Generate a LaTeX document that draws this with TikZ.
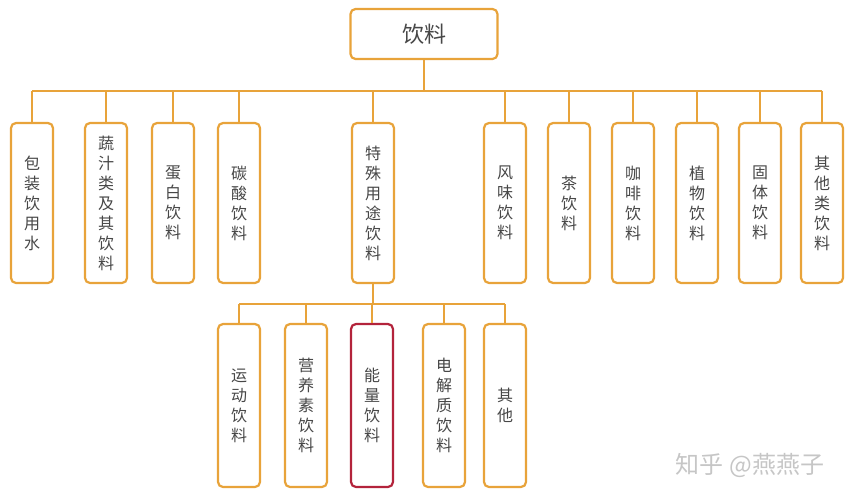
\documentclass[tikz,border=0pt]{standalone}
\usepackage{fontspec}
\setmainfont{Noto Sans CJK SC}
\definecolor{drinkorange}{HTML}{E8A33A}
\definecolor{drinkred}{HTML}{B3233B}
\definecolor{drinktext}{HTML}{474747}
\tikzset{
  cat/.style={draw=drinkorange, line width=2.2pt, rounded corners=5pt, fill=white,
    minimum width=42pt, minimum height=160pt, inner sep=0pt, align=center,
    text=drinktext, font=\fontsize{16}{20}\selectfont},
  link/.style={drinkorange, line width=2.2pt},
}
\begin{document}
\begin{tikzpicture}[x=1pt,y=-1pt]
  \useasboundingbox (0,0) rectangle (853,500);

  \node[cat, minimum width=147pt, minimum height=50pt, font=\fontsize{22}{24}\selectfont] (root) at (424,34) {饮料};

  % first level
  \path (32,203)  node[cat] (water)   {包\\装\\饮\\用\\水}
        (106,203) node[cat] (juice)   {蔬\\汁\\类\\及\\其\\饮\\料}
        (173,203) node[cat] (protein) {蛋\\白\\饮\\料}
        (239,203) node[cat] (soda)    {碳\\酸\\饮\\料}
        (373,203) node[cat] (special) {特\\殊\\用\\途\\饮\\料}
        (505,203) node[cat] (flavor)  {风\\味\\饮\\料}
        (569,203) node[cat] (tea)     {茶\\饮\\料}
        (633,203) node[cat] (coffee)  {咖\\啡\\饮\\料}
        (697,203) node[cat] (plant)   {植\\物\\饮\\料}
        (760,203) node[cat] (solid)   {固\\体\\饮\\料}
        (822,203) node[cat] (other)   {其\\他\\类\\饮\\料};

  % second level
  \path (239,405.5) node[cat, minimum height=163pt] (sport)    {运\\动\\饮\\料}
        (306,405.5) node[cat, minimum height=163pt] (nutrient) {营\\养\\素\\饮\\料}
        (372,405.5) node[cat, minimum height=163pt, draw=drinkred] (energy) {能\\量\\饮\\料}
        (444,405.5) node[cat, minimum height=163pt] (electro)  {电\\解\\质\\饮\\料}
        (505,405.5) node[cat, minimum height=163pt] (misc)     {其\\他};

  \coordinate (busa) at (0,91);
  \coordinate (busb) at (0,304);

  \draw[link] (root) -- (root |- busa);
  \draw[link] (water |- busa) -- (other |- busa);
  \foreach \n in {water,juice,protein,soda,special,flavor,tea,coffee,plant,solid,other}
    \draw[link] (\n.north) -- (\n |- busa);

  \draw[link] (special.south) -- (special |- busb);
  \draw[link] (sport |- busb) -- (misc |- busb);
  \foreach \n in {sport,nutrient,energy,electro,misc}
    \draw[link] (\n.north) -- (\n |- busb);

  \node[text=gray!45, font=\fontsize{24}{26}\selectfont] (mark) at (750,465) {知乎 @燕燕子};
\end{tikzpicture}
\end{document}
